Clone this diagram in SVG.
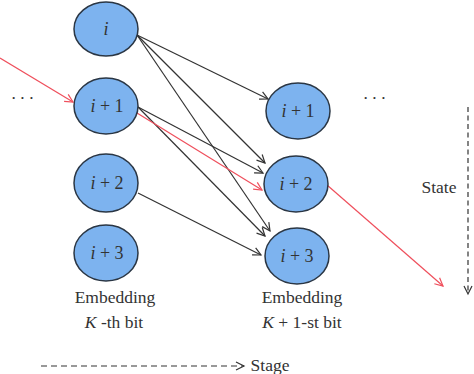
<svg xmlns="http://www.w3.org/2000/svg" width="474" height="374" viewBox="0 0 474 374">
<style>
.node ellipse{fill:#7db3ef;stroke:#2a3644;stroke-width:1.5}
text{font-family:'Liberation Serif','Times New Roman','DejaVu Serif',serif;fill:#333;text-anchor:middle}
.lbl{font-size:18px}
.txt{font-size:17.5px}
.it{font-style:italic}
.e{fill:none;stroke:#333;stroke-width:1.2;marker-end:url(#ab)}
.r{fill:none;stroke:#ef4f5c;stroke-width:1.2;marker-end:url(#ar)}
.d{fill:none;stroke:#333;stroke-width:1.2}
</style>
<defs>
<marker id="ab" markerUnits="userSpaceOnUse" markerWidth="12" markerHeight="12" refX="9" refY="5" orient="auto"><path d="M1,1 L9,5 L1,9" fill="none" stroke="#333" stroke-width="1.2"/></marker>
<marker id="ar" markerUnits="userSpaceOnUse" markerWidth="12" markerHeight="12" refX="9" refY="5" orient="auto"><path d="M1,1 L9,5 L1,9" fill="none" stroke="#ef4f5c" stroke-width="1.2"/></marker>
<marker id="ad" markerUnits="userSpaceOnUse" markerWidth="12" markerHeight="12" refX="9" refY="5" orient="auto"><path d="M1,1 L9,5 L1,9" fill="none" stroke="#333" stroke-width="1.2"/></marker>
</defs>
<g id="connectors">
<line class="e" x1="137" y1="35" x2="268" y2="99"/>
<line class="e" x1="137" y1="35" x2="265" y2="163"/>
<line class="e" x1="137" y1="35" x2="270" y2="231"/>
<line class="e" x1="138" y1="107" x2="263" y2="173"/>
<line class="e" x1="138" y1="107" x2="265" y2="236"/>
<line class="e" x1="138" y1="193" x2="261" y2="255"/>
<line class="r" x1="0" y1="58" x2="73" y2="102"/>
<line class="r" x1="137" y1="113" x2="262" y2="190"/>
<line class="r" x1="327" y1="185" x2="443" y2="286"/>
</g>
<g id="n-l-i" class="node"><ellipse cx="106" cy="29" rx="32" ry="27"/><text class="lbl it" x="106" y="35" font-family="Liberation Serif, serif">i</text></g>
<g id="n-l-i1" class="node"><ellipse cx="106" cy="106" rx="32" ry="28"/><text class="lbl" x="107" y="112"><tspan class="it">i</tspan> + 1</text></g>
<g id="n-l-i2" class="node"><ellipse cx="106" cy="183" rx="32" ry="29"/><text class="lbl" x="107" y="189"><tspan class="it">i</tspan> + 2</text></g>
<g id="n-l-i3" class="node"><ellipse cx="106" cy="253" rx="32" ry="28"/><text class="lbl" x="107" y="259"><tspan class="it">i</tspan> + 3</text></g>
<g id="n-r-i1" class="node"><ellipse cx="298" cy="111" rx="32" ry="28"/><text class="lbl" x="298" y="117"><tspan class="it">i</tspan> + 1</text></g>
<g id="n-r-i2" class="node"><ellipse cx="296" cy="184" rx="32" ry="28"/><text class="lbl" x="296" y="190"><tspan class="it">i</tspan> + 2</text></g>
<g id="n-r-i3" class="node"><ellipse cx="297" cy="256" rx="32" ry="28"/><text class="lbl" x="297" y="262"><tspan class="it">i</tspan> + 3</text></g>
<g id="labels">
<text class="txt" x="115" y="303">Embedding</text>
<text class="txt" x="114" y="328"><tspan class="it">K</tspan> -th bit</text>
<text class="txt" x="302" y="303">Embedding</text>
<text class="txt" x="302" y="328"><tspan class="it">K</tspan> + 1-st bit</text>
<text class="txt" x="24" y="104" letter-spacing="3">···</text>
<text class="txt" x="376" y="104" letter-spacing="3">···</text>
<text class="txt" x="439" y="193">State</text>
<text class="txt" x="270" y="370.5">Stage</text>
</g>
<g id="axes">
<line class="d" x1="468" y1="107" x2="468" y2="294" stroke-dasharray="5,3.5" marker-end="url(#ad)"/>
<line class="d" x1="41" y1="366" x2="244" y2="366" stroke-dasharray="6,4" marker-end="url(#ad)"/>
</g>
</svg>
